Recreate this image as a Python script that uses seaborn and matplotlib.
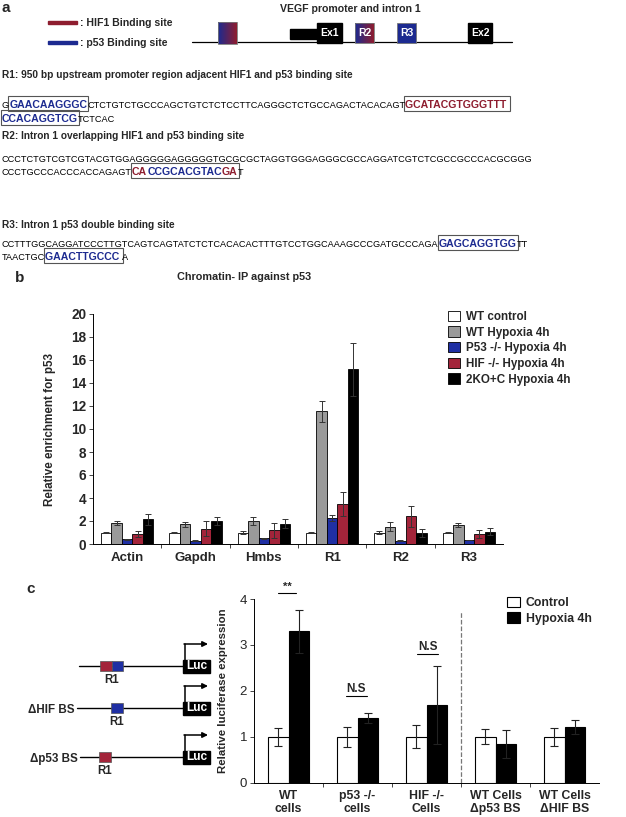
import numpy as np
import pandas as pd
import seaborn as sns
import matplotlib.pyplot as plt
from matplotlib.patches import Rectangle
from matplotlib.colors import LinearSegmentedColormap

# ---------------------------------------------------------------------
# data
# ---------------------------------------------------------------------
chip_regions = ['Actin', 'Gapdh', 'Hmbs', 'R1', 'R2', 'R3']
chip_conditions = ['WT control', 'WT Hypoxia 4h', 'P53 -/- Hypoxia 4h',
                   'HIF -/- Hypoxia 4h', '2KO+C Hypoxia 4h']
chip_wt_control = [1.0, 1.0, 1.0, 1.0, 1.0, 1.0]
chip_wt_control_err = [0.03, 0.03, 0.15, 0.03, 0.1, 0.04]
chip_wt_hypoxia = [1.8, 1.7, 2.0, 11.55, 1.5, 1.65]
chip_wt_hypoxia_err = [0.17, 0.18, 0.35, 0.9, 0.4, 0.18]
chip_p53_ko = [0.4, 0.3, 0.5, 2.26, 0.3, 0.35]
chip_p53_ko_err = [0.03, 0.03, 0.05, 0.22, 0.03, 0.03]
chip_hif_ko = [0.85, 1.33, 1.2, 3.48, 2.4, 0.87]
chip_hif_ko_err = [0.28, 0.67, 0.65, 1.05, 0.9, 0.33]
chip_2ko = [2.15, 2.0, 1.77, 15.2, 0.95, 1.07]
chip_2ko_err = [0.5, 0.37, 0.38, 2.3, 0.38, 0.28]

luc_groups = ['WT\ncells', 'p53 -/-\ncells', 'HIF -/-\nCells',
              'WT Cells\nΔp53 BS', 'WT Cells\nΔHIF BS']
luc_conditions = ['Control', 'Hypoxia 4h']
luc_control = [1.0, 1.0, 1.0, 1.0, 1.0]
luc_control_err = [0.2, 0.22, 0.25, 0.16, 0.19]
luc_hypoxia = [3.3, 1.4, 1.7, 0.84, 1.21]
luc_hypoxia_err = [0.47, 0.11, 0.85, 0.31, 0.15]

BLUE = '#1c2a90'
RED = '#8e1d2f'
BAR_BLUE = '#1f2fa3'
BAR_RED = '#a3243a'

sns.set_style('white')
plt.rcParams['font.family'] = ['Liberation Sans', 'DejaVu Sans']

fig = plt.figure(figsize=(6.26, 8.17), dpi=100)

# overlay in pixel units for panel a and drawings
ax0 = fig.add_axes([0, 0, 1, 1])
ax0.set_xlim(0, 626)
ax0.set_ylim(817, 0)
ax0.axis('off')
renderer = fig.canvas.get_renderer()

SEQ_FS = 6.55
BOLD_FS = 7.6
HEAD_FS = 7.3


def gradient_box(x0, x1, y0, y1):
    cmap = LinearSegmentedColormap.from_list('br', [BLUE, RED])
    ax0.imshow(np.linspace(0, 1, 50).reshape(1, -1), cmap=cmap, aspect='auto',
               extent=(x0, x1, y1, y0), zorder=3)
    ax0.add_patch(Rectangle((x0, y0), x1 - x0, y1 - y0, fill=False, ec='#777', lw=0.6, zorder=4))


def put_seq(x, y, pieces):
    boxes = {}
    for txt, col, bold, box in pieces:
        t = ax0.text(x, y, txt, color=col, fontsize=BOLD_FS if bold else SEQ_FS,
                     fontweight='bold' if bold else 'normal', va='baseline', ha='left')
        w = t.get_window_extent(renderer=renderer).width
        if box:
            boxes.setdefault(box, [x, x + w])
            boxes[box][1] = x + w
        x += w
    for bx0, bx1 in boxes.values():
        ax0.add_patch(Rectangle((bx0 - 1, y - 12), bx1 - bx0 + 2, 15,
                                fill=False, ec='#555', lw=0.8))


# ---------------------------------------------------------------------
# panel a
# ---------------------------------------------------------------------
ax0.text(1, 12, 'a', fontsize=11, fontweight='bold', va='baseline')
ax0.text(350, 12, 'VEGF promoter and intron 1', fontsize=7.6, fontweight='bold',
         ha='center', va='baseline')
ax0.add_patch(Rectangle((48, 20.5), 29, 3.5, color=RED))
ax0.add_patch(Rectangle((48, 40.5), 29, 3.5, color=BLUE))
ax0.text(80, 26, ': HIF1 Binding site', fontsize=7.6, fontweight='bold', va='baseline')
ax0.text(80, 46, ': p53 Binding site', fontsize=7.6, fontweight='bold', va='baseline')

ax0.plot([192, 512], [42, 42], color='black', lw=0.9, zorder=1)
gradient_box(218, 237, 22, 44)
ax0.add_patch(Rectangle((290, 29), 28, 10, color='black', zorder=2))
for xx0, xx1, lab in [(317, 342, 'Ex1'), (468, 492, 'Ex2')]:
    ax0.add_patch(Rectangle((xx0, 23), xx1 - xx0, 20, color='black', zorder=2))
    ax0.text((xx0 + xx1) / 2, 33, lab, color='white', fontsize=7.5, fontweight='bold',
             ha='center', va='center', zorder=5)
gradient_box(355, 374, 23, 43)
ax0.text(364.5, 33, 'R2', color='white', fontsize=7.5, fontweight='bold',
         ha='center', va='center', zorder=5)
ax0.add_patch(Rectangle((397, 23), 19, 20, fc=BLUE, ec='#777', lw=0.6, zorder=2))
ax0.text(406.5, 33, 'R3', color='white', fontsize=7.5, fontweight='bold',
         ha='center', va='center', zorder=5)

ax0.text(2, 78, 'R1: 950 bp upstream promoter region adjacent HIF1 and p53 binding site',
         fontsize=HEAD_FS, fontweight='bold', va='baseline')
put_seq(2, 108, [('G', 'black', False, None),
                 ('GAACAAGGGC', BLUE, True, 1),
                 ('CTCTGTCTGCCCAGCTGTCTCTCCTTCAGGGCTCTGCCAGACTACACAGT', 'black', False, None),
                 ('GCATACGTGGGTTT ', RED, True, 2)])
put_seq(2, 122, [('CCACAGGTCG', BLUE, True, 1), ('TCTCAC', 'black', False, None)])

ax0.text(2, 139, 'R2: Intron 1 overlapping HIF1 and p53 binding site',
         fontsize=HEAD_FS, fontweight='bold', va='baseline')
put_seq(2, 162, [('CCCTCTGTCGTCGTACGTGGAGGGGGAGGGGGTGCGCGCTAGGTGGGAGGGCGCCAGGATCGTCTCGCCGCCCACGCGGG',
                  'black', False, None)])
put_seq(2, 175, [('CCCTGCCCACCCACCAGAGT', 'black', False, None),
                 ('CA', RED, True, 1), ('CCGCACGTAC', BLUE, True, 1), ('GA', RED, True, 1),
                 ('T', 'black', False, None)])

ax0.text(2, 228, 'R3: Intron 1 p53 double binding site',
         fontsize=HEAD_FS, fontweight='bold', va='baseline')
put_seq(2, 247, [('CCTTTGGCAGGATCCCTTGTCAGTCAGTATCTCTCACACACTTTGTCCTGGCAAAGCCCGATGCCCAGA',
                  'black', False, None),
                 ('GAGCAGGTGG', BLUE, True, 1), ('TT', 'black', False, None)])
put_seq(2, 260, [('TAACTGC', 'black', False, None), ('GAACTTGCCC ', BLUE, True, 1),
                 ('A', 'black', False, None)])

# ---------------------------------------------------------------------
# panel b: ChIP
# ---------------------------------------------------------------------
chip_vals = [chip_wt_control, chip_wt_hypoxia, chip_p53_ko, chip_hif_ko, chip_2ko]
chip_errs = [chip_wt_control_err, chip_wt_hypoxia_err, chip_p53_ko_err,
             chip_hif_ko_err, chip_2ko_err]
df_chip = pd.DataFrame({
    'region': chip_regions * len(chip_conditions),
    'condition': np.repeat(chip_conditions, len(chip_regions)),
    'value': np.concatenate(chip_vals),
})

ax0.text(15, 282, 'b', fontsize=11, fontweight='bold', va='baseline')
ax0.text(177, 280, 'Chromatin- IP against p53', fontsize=7.8, fontweight='bold', va='baseline')

axb = fig.add_axes([93 / 626, 273 / 817, 410 / 626, 230 / 817])
sns.barplot(data=df_chip, x='region', y='value', hue='condition', order=chip_regions,
            hue_order=chip_conditions, errorbar=None, width=0.77, ax=axb,
            palette=['white', '#9a9a9a', BAR_BLUE, BAR_RED, 'black'],
            edgecolor='black', linewidth=0.6, saturation=1)
for cont, errs in zip(axb.containers, chip_errs):
    xs = [b.get_x() + b.get_width() / 2 for b in cont]
    ys = [b.get_height() for b in cont]
    axb.errorbar(xs, ys, yerr=errs, fmt='none', ecolor='#333', elinewidth=0.7,
                 capsize=2, capthick=0.7)

axb.set_xlim(-0.5, 5.5)
axb.set_ylim(0, 20)
axb.set_yticks(range(0, 21, 2))
axb.set_xlabel('')
axb.set_ylabel('Relative enrichment for p53', fontsize=8.4, fontweight='bold')
axb.yaxis.set_label_coords(-0.09, 0.5)
axb.set_xticks(np.arange(0.5, 5, 1), minor=True)
axb.tick_params(axis='x', which='major', length=0, labelsize=9.5, pad=6)
axb.tick_params(axis='x', which='minor', length=3, width=0.6, direction='out')
axb.tick_params(axis='y', length=3, width=0.6, direction='out', labelsize=9.8, pad=2)
axb.tick_params(bottom=True, left=True, which='both')
for lab in axb.get_xticklabels() + axb.get_yticklabels():
    lab.set_fontweight('bold')
for s in ['left', 'bottom']:
    axb.spines[s].set_linewidth(0.7)
    axb.spines[s].set_color('black')
sns.despine(ax=axb)
axb.legend(loc='upper left', bbox_to_anchor=(0.855, 1.035), frameon=False,
           prop={'size': 8.4, 'weight': 'bold'}, handlelength=1.0, handleheight=1.0,
           handletextpad=0.5, labelspacing=0.3, borderaxespad=0)

# ---------------------------------------------------------------------
# panel c: luciferase
# ---------------------------------------------------------------------
df_luc = pd.DataFrame({
    'group': luc_groups * 2,
    'condition': np.repeat(luc_conditions, len(luc_groups)),
    'value': luc_control + luc_hypoxia,
})

ax0.text(26, 593, 'c', fontsize=11, fontweight='bold', va='baseline')

axc = fig.add_axes([254 / 626, 34.3 / 817, 345 / 626, 183.7 / 817])
sns.barplot(data=df_luc, x='group', y='value', hue='condition', order=luc_groups,
            hue_order=luc_conditions, errorbar=None, width=0.58, ax=axc,
            palette=['white', 'black'], edgecolor='black', linewidth=0.8, saturation=1)
for cont, errs in zip(axc.containers, [luc_control_err, luc_hypoxia_err]):
    xs = [b.get_x() + b.get_width() / 2 for b in cont]
    ys = [b.get_height() for b in cont]
    axc.errorbar(xs, ys, yerr=errs, fmt='none', ecolor='#222', elinewidth=0.8,
                 capsize=3, capthick=0.8)

axc.set_xlim(-0.5, 4.5)
axc.set_ylim(0, 4)
axc.set_yticks(range(0, 5))
axc.set_xlabel('')
axc.set_ylabel('Relative luciferase expression', fontsize=8.2, fontweight='bold')
axc.yaxis.set_label_coords(-0.075, 0.5)
axc.set_xticks(np.arange(0.5, 4, 1), minor=True)
axc.tick_params(axis='x', which='major', length=0, labelsize=8.8, pad=5)
axc.tick_params(axis='x', which='minor', length=3, width=0.6, direction='out')
axc.tick_params(axis='y', length=3, width=0.6, direction='out', labelsize=9.5, pad=2)
axc.tick_params(bottom=True, left=True, which='both')
for lab in axc.get_xticklabels():
    lab.set_fontweight('bold')
    lab.set_linespacing(1.15)
for s in ['left', 'bottom']:
    axc.spines[s].set_linewidth(0.7)
    axc.spines[s].set_color('black')
sns.despine(ax=axc)
axc.axvline(2.5, ymin=0, ymax=0.935, color='#777', ls='--', lw=0.9)
axc.legend(loc='upper left', bbox_to_anchor=(0.72, 1.04), frameon=False,
           prop={'size': 8.8, 'weight': 'bold'}, handlelength=1.0, handleheight=1.0,
           handletextpad=0.5, labelspacing=0.25, borderaxespad=0)

# significance marks
axc.plot([-0.15, 0.11], [4.13, 4.13], color='black', lw=0.8, clip_on=False)
axc.text(-0.02, 4.15, '**', fontsize=8, fontweight='bold', ha='center', va='bottom')
axc.plot([0.83, 1.14], [1.89, 1.89], color='black', lw=0.8)
axc.text(0.985, 1.92, 'N.S', fontsize=8.5, fontweight='bold', ha='center', va='bottom')
axc.plot([1.86, 2.17], [2.8, 2.8], color='black', lw=0.8)
axc.text(2.015, 2.83, 'N.S', fontsize=8.5, fontweight='bold', ha='center', va='bottom')

# construct drawings
def construct(y, x_start, label, boxes):
    ax0.plot([x_start, 184], [y, y], color='black', lw=1.0)
    for bx, col in boxes:
        ax0.add_patch(Rectangle((bx, y - 5), 11.5, 10, fc=col, ec='#555', lw=0.5, zorder=3))
    cx = boxes[0][0] + 11.5 * len(boxes) / 2
    ax0.text(cx, y + 17, 'R1', fontsize=8.3, fontweight='bold', ha='center', va='baseline')
    ax0.add_patch(Rectangle((183, y - 6), 27, 12.5, color='black', zorder=3))
    ax0.text(196.5, y + 0.3, 'Luc', color='white', fontsize=8.6, fontweight='bold',
             ha='center', va='center', zorder=4)
    ax0.plot([184.5, 184.5], [y - 6, y - 22], color='black', lw=1.1)
    ax0.annotate('', xy=(208, y - 22), xytext=(184, y - 22),
                 arrowprops=dict(arrowstyle='-|>', color='black', lw=1.1,
                                 mutation_scale=8, shrinkA=0, shrinkB=0))
    if label:
        ax0.text(x_start - 2, y + 5, label, fontsize=8.4, fontweight='bold',
                 ha='right', va='baseline')

construct(666, 79, None, [(100, BAR_RED), (111.5, BAR_BLUE)])
construct(708, 77, 'ΔHIF BS', [(111, BAR_BLUE)])
construct(757, 80, 'Δp53 BS', [(99, BAR_RED)])

fig.savefig('out.png', dpi=100)
